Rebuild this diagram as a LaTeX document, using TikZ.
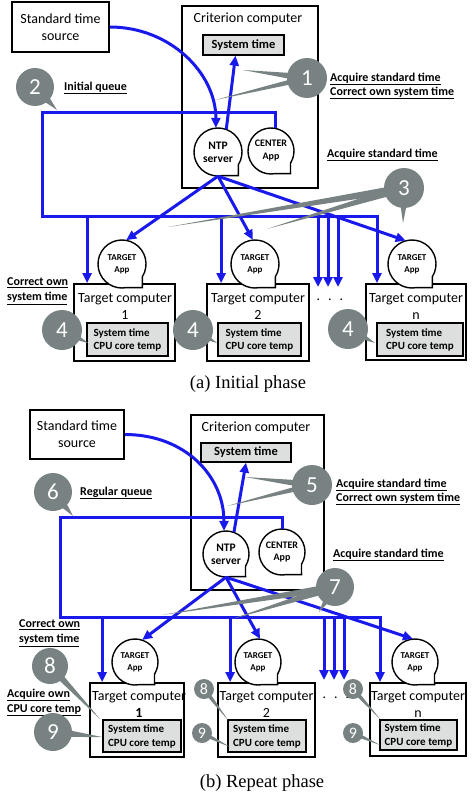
\documentclass[tikz,border=0pt]{standalone}
\usepackage{fontspec}
\setmainfont{Carlito}
\newfontfamily\capfont{Liberation Serif}
\usetikzlibrary{arrows.meta,calc}
\definecolor{nblue}{RGB}{25,25,235}
\definecolor{cgray}{RGB}{120,130,130}
\definecolor{lgray}{RGB}{221,223,223}
\newcommand\myfs[2]{\fontsize{#1}{#2}\selectfont}
% bubble: name, x, y, r, text, font
\newcommand\bub[6]{%
 \begin{scope}[shift={(#2,#3)},y=1pt]
  \draw[bubline] (-32:#4) arc[start angle=-32,end angle=280,radius=#4] -- ({0.85*#4},{-0.985*#4}) -- cycle;
 \end{scope}
 \node[circle,minimum size=2*#4pt,inner sep=0,align=center,font=#6] (#1) at (#2,#3) {#5};
}
% wedge: centre coordinate, tip, half width
\newcommand\callwedge[3]{%
 \fill[cgray] ($(#1)!#3!90:(#2)$) -- (#2) -- ($(#1)!#3!-90:(#2)$) -- cycle;}
\begin{document}
\begin{tikzpicture}[x=1pt,y=-1pt,
 box/.style={draw=black,line width=1.8pt,fill=white,inner sep=0},
 gbox/.style={draw=black,line width=1.3pt,fill=lgray,inner sep=0,align=left},
 bl/.style={draw=nblue,line width=3pt},
 arr/.style={bl,-{Triangle[length=10pt,width=9pt]}},
 bubline/.style={draw=black,line width=1.4pt,fill=white},
 lbl/.style={font=\myfs{12}{15}\bfseries,anchor=west,inner sep=0,align=left},
 num/.style={circle,fill=cgray,text=white,inner sep=0},
 bignum/.style={num,font=\myfs{23}{23}},
 smallnum/.style={num,minimum size=20,font=\myfs{16}{16}},
 titletext/.style={font=\myfs{14}{17},align=center,inner sep=0},
 innertext/.style={font=\myfs{11}{13}\bfseries},
 captext/.style={font=\capfont\myfs{18.5}{20}}]
\fill[white] (0,0) rectangle (474,803);
\useasboundingbox (0,0) rectangle (474,803);

% ================= (a) =================
\node[box,titletext,minimum width=97,minimum height=50] (srcA) at (60.5,27) {Standard time\\source};
\node[box,minimum width=136,minimum height=182] (critA) at (250,97) {};
\node[titletext] (critAt) at (248,19) {Criterion computer};
\node[gbox,minimum width=81,minimum height=20,font=\myfs{12.5}{15}\bfseries] (stA) at (243.5,45) {System time};

\node[box,minimum width=101,minimum height=77] (tcA1) at (124.5,322.5) {};
\node[titletext] (tcA1t) at (125,306.5) {Target computer\\1};
\node[gbox,innertext,minimum width=81,minimum height=33] (siA1) at (127.5,339.5) {System time\\CPU core temp};
\node[box,minimum width=102,minimum height=77] (tcA2) at (258,322.5) {};
\node[titletext] (tcA2t) at (258,306.5) {Target computer\\2};
\node[gbox,innertext,minimum width=83,minimum height=33] (siA2) at (259.5,339.5) {System time\\CPU core temp};
\node[box,minimum width=100,minimum height=76] (tcA3) at (416,322) {};
\node[titletext] (tcA3t) at (416,306.5) {Target computer\\n};
\node[gbox,innertext,minimum width=86,minimum height=33] (siA3) at (420,339.5) {System time\\CPU core temp};
\node[titletext] (dotsA) at (330,300) {.\hspace{8pt}.\hspace{8pt}.};

\bub{ntpA}{218}{152}{24}{NTP\\server}{\myfs{11.5}{13}\bfseries}
\bub{cenA}{271}{151}{23}{CENTER\\App}{\myfs{10}{13}\bfseries}
\bub{taA1}{122}{264}{24}{TARGET\\App}{\myfs{9}{12}\bfseries}
\bub{taA2}{255}{264}{24}{TARGET\\App}{\myfs{9}{12}\bfseries}
\bub{taA3}{412}{264}{24}{TARGET\\App}{\myfs{9}{12}\bfseries}

\draw[arr] (srcA.east) .. controls +(60,0) and +(0,-55) .. (ntpA.95);
\draw[arr] (ntpA.70) -- ([xshift=-8pt]stA.south);
\coordinate (qA1) at (42,112);
\coordinate (qA2) at (42,216);
\draw[arr] (cenA.80) |- (qA1) -- (qA2) -| ([xshift=-39pt]tcA3.north);
\coordinate (dA1) at ([xshift=14pt]tcA1.north west);
\coordinate (dA2) at ([xshift=15pt]tcA2.north west);
\coordinate (dA3) at (318,287);
\coordinate (dA4) at (328,287);
\coordinate (dA5) at (338,287);
\foreach \d in {dA1,dA2,dA3,dA4,dA5} \draw[arr] (\d |- qA2) -- (\d);
\draw[arr] (ntpA.south) -- (taA1.80);
\draw[arr] (ntpA.south) -- (taA2.95);
\draw[arr] (ntpA.south) -- (taA3.105);

\node[lbl] (lA1) at (330,79) {\underline{Acquire standard time}};
\node[lbl] (lA2) at (330,93) {\underline{Correct own system time}};
\node[lbl] (lA3) at (327,155) {\underline{Acquire standard time}};
\node[lbl] (lA4) at (64,88) {\underline{Initial queue}};
\node[lbl] (lA5) at (7,291.5) {\underline{Correct own}\\\underline{system time}};

\coordinate (cA1) at (307,78);
\callwedge{cA1}{243,70}{4pt}
\callwedge{cA1}{215,100}{3pt}
\node[bignum,minimum size=40] (nA1) at (cA1) {1};
\coordinate (cA2) at (35,87);
\callwedge{cA2}{57,110}{7pt}
\node[bignum,minimum size=38] (nA2) at (cA2) {2};
\coordinate (cA3) at (404,188);
\callwedge{cA3}{168,227}{4pt}
\callwedge{cA3}{267,229}{4pt}
\callwedge{cA3}{403,223}{6pt}
\node[bignum,minimum size=40] (nA3) at (cA3) {3};
\coordinate (cA4) at (62,330);
\callwedge{cA4}{88,343}{6pt}
\node[bignum,minimum size=40] (nA4) at (cA4) {4};
\coordinate (cA5) at (193,330);
\callwedge{cA5}{217,343}{6pt}
\node[bignum,minimum size=40] (nA5) at (cA5) {4};
\coordinate (cA6) at (348,329);
\callwedge{cA6}{375,343}{6pt}
\node[bignum,minimum size=40] (nA6) at (cA6) {4};

\node[captext] (capA) at (248,384) {(a) Initial phase};

% ================= (b) =================
\node[box,titletext,minimum width=94,minimum height=49] (srcB) at (77,434.5) {Standard time\\source};
\node[box,minimum width=133,minimum height=175] (critB) at (257.5,502.5) {};
\node[titletext] (critBt) at (256,428) {Criterion computer};
\node[gbox,minimum width=90,minimum height=19,font=\myfs{12.5}{15}\bfseries] (stB) at (246,452.5) {System time};

\node[box,minimum width=94,minimum height=74] (tcB1) at (137,720) {};
\node[titletext] (tcB1t) at (139,704.5) {Target computer\\\textbf{1}};
\node[gbox,font=\myfs{11}{14}\bfseries,minimum width=78,minimum height=32] (siB1) at (142,736) {System time\\CPU core temp};
\node[box,minimum width=97,minimum height=74] (tcB2) at (266.5,720) {};
\node[titletext] (tcB2t) at (266.5,704.5) {Target computer\\2};
\node[gbox,font=\myfs{11}{14}\bfseries,minimum width=78,minimum height=32] (siB2) at (267,736) {System time\\CPU core temp};
\node[box,minimum width=96,minimum height=73] (tcB3) at (418,719.5) {};
\node[titletext] (tcB3t) at (418,704.5) {Target computer\\n};
\node[gbox,font=\myfs{11}{14}\bfseries,minimum width=77,minimum height=30] (siB3) at (418.5,735) {System time\\CPU core temp};
\node[titletext] (dotsB) at (336,698) {.\hspace{8pt}.\hspace{8pt}.};

\bub{ntpB}{226}{554}{23}{NTP\\server}{\myfs{11.5}{13}\bfseries}
\bub{cenB}{282}{552}{23}{CENTER\\App}{\myfs{10}{13}\bfseries}
\bub{taB1}{135}{662}{23}{TARGET\\App}{\myfs{9}{12}\bfseries}
\bub{taB2}{258}{662}{23}{TARGET\\App}{\myfs{9}{12}\bfseries}
\bub{taB3}{415}{662}{23}{TARGET\\App}{\myfs{9}{12}\bfseries}

\draw[arr] (srcB.east) .. controls +(60,0) and +(0,-55) .. (ntpB.95);
\draw[arr] (ntpB.70) -- (stB.south);
\coordinate (qB1) at (60,517);
\coordinate (qB2) at (60,617);
\draw[arr] (cenB.north) |- (qB1) -- (qB2) -| ([xshift=-38pt]tcB3.north);
\coordinate (dB1) at ([xshift=13pt]tcB1.north west);
\coordinate (dB2) at ([xshift=13pt]tcB2.north west);
\coordinate (dB3) at (324,680);
\coordinate (dB4) at (334,680);
\coordinate (dB5) at (344,680);
\foreach \d in {dB1,dB2,dB3,dB4,dB5} \draw[arr] (\d |- qB2) -- (\d);
\draw[arr] (ntpB.south) -- (taB1.72);
\draw[arr] (ntpB.south) -- (taB2.85);
\draw[arr] (ntpB.south) -- (taB3.95);

\node[lbl] (lB1) at (336,485) {\underline{Acquire standard time}};
\node[lbl] (lB2) at (336,499) {\underline{Correct own system time}};
\node[lbl] (lB3) at (333,555) {\underline{Acquire standard time}};
\node[lbl] (lB4) at (80,493) {\underline{Regular queue}};
\node[lbl] (lB5) at (19,633.5) {\underline{Correct own}\\\underline{system time}};
\node[lbl] (lB6) at (7,702.5) {\underline{Acquire own}\\\underline{CPU core temp}};

\coordinate (cB5) at (312,485);
\callwedge{cB5}{245,477}{4pt}
\callwedge{cB5}{227,506}{3pt}
\node[bignum,minimum size=40] (nB5) at (cB5) {5};
\coordinate (cB6) at (53,492);
\callwedge{cB6}{73,516}{7pt}
\node[bignum,minimum size=38] (nB6) at (cB6) {6};
\coordinate (cB7) at (335,587);
\callwedge{cB7}{162,615}{4pt}
\callwedge{cB7}{232,619}{4pt}
\callwedge{cB7}{319,612}{6pt}
\node[bignum,minimum size=38] (nB7) at (cB7) {7};
\coordinate (cB8) at (50,666);
\callwedge{cB8}{100,719}{4pt}
\node[bignum,minimum size=36] (nB8) at (cB8) {8};
\coordinate (cB9) at (53,732);
\callwedge{cB9}{102,737}{5pt}
\node[bignum,minimum size=38] (nB9) at (cB9) {9};
\coordinate (cB10) at (204,689);
\callwedge{cB10}{228,720}{2.5pt}
\node[smallnum] (nB10) at (cB10) {8};
\coordinate (cB11) at (202,733);
\callwedge{cB11}{230,747}{2.5pt}
\node[smallnum] (nB11) at (cB11) {9};
\coordinate (cB12) at (353,689);
\callwedge{cB12}{380,719}{2.5pt}
\node[smallnum] (nB12) at (cB12) {8};
\coordinate (cB13) at (353,733);
\callwedge{cB13}{380,745}{2.5pt}
\node[smallnum] (nB13) at (cB13) {9};

\node[captext] (capB) at (262,783) {(b) Repeat phase};
\end{tikzpicture}
\end{document}
